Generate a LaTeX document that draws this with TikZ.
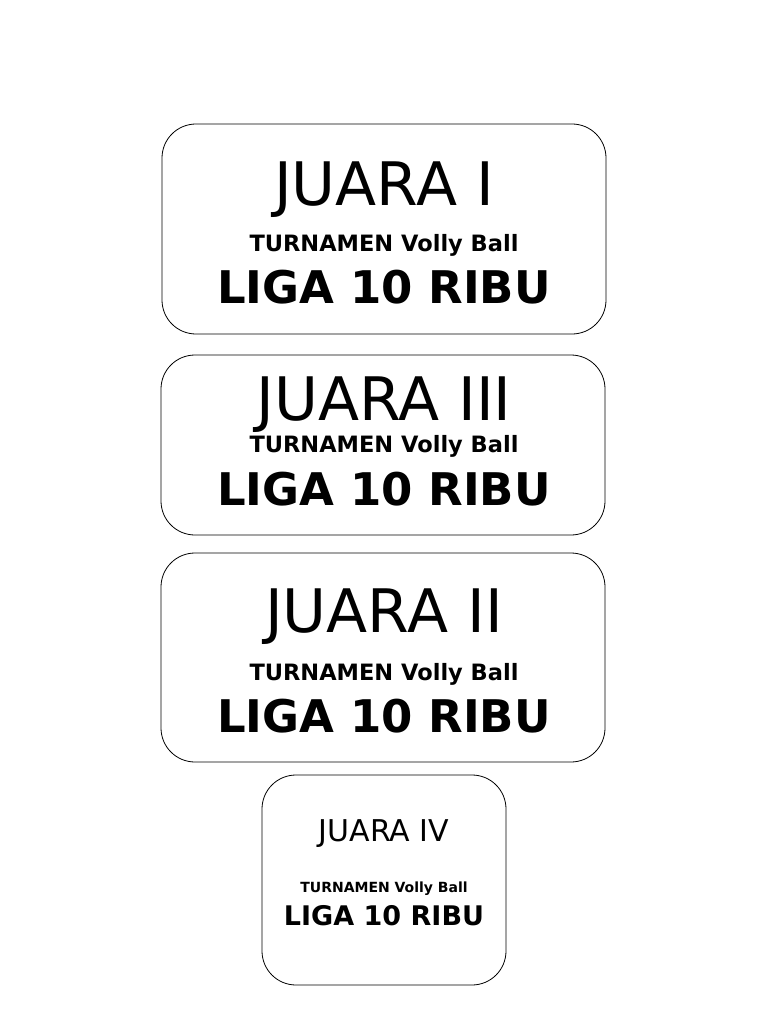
\documentclass[tikz,border=0pt]{standalone}
\usepackage{fontspec}
\setmainfont{DejaVu Sans}
\begin{document}
\begin{tikzpicture}[x=1pt,y=-1pt,
  card/.style={draw,line width=0.8pt,rounded corners=34pt},
  big/.style={font=\fontsize{60}{60}\selectfont},
  mid/.style={font=\bfseries\fontsize{22.5}{22.5}\selectfont},
  liga/.style={font=\bfseries\fontsize{45}{45}\selectfont}]
\useasboundingbox (0,0) rectangle (768,1024);
\draw[card] (162,124) rectangle (606,334);
\node[big] (a1) at (384,190) {JUARA I};
\node[mid] (b1) at (384,245) {TURNAMEN Volly Ball};
\node[liga] (c1) at (384,287) {LIGA 10 RIBU};
\draw[card] (161,355) rectangle (605,535);
\node[big] (a2) at (384,405) {JUARA III};
\node[mid] (b2) at (384,446) {TURNAMEN Volly Ball};
\node[liga] (c2) at (384,489) {LIGA 10 RIBU};
\draw[card] (161,553) rectangle (605,762);
\node[big] (a3) at (384,617) {JUARA II};
\node[mid] (b3) at (384,674) {TURNAMEN Volly Ball};
\node[liga] (c3) at (384,716) {LIGA 10 RIBU};
\draw[card] (262,775) rectangle (506,985);
\node[font=\fontsize{30}{30}\selectfont] (a4) at (384,834) {JUARA IV};
\node[font=\bfseries\fontsize{14}{14}\selectfont] (b4) at (384,889) {TURNAMEN Volly Ball};
\node[font=\bfseries\fontsize{27}{27}\selectfont] (c4) at (384,916) {LIGA 10 RIBU};
\end{tikzpicture}
\end{document}
